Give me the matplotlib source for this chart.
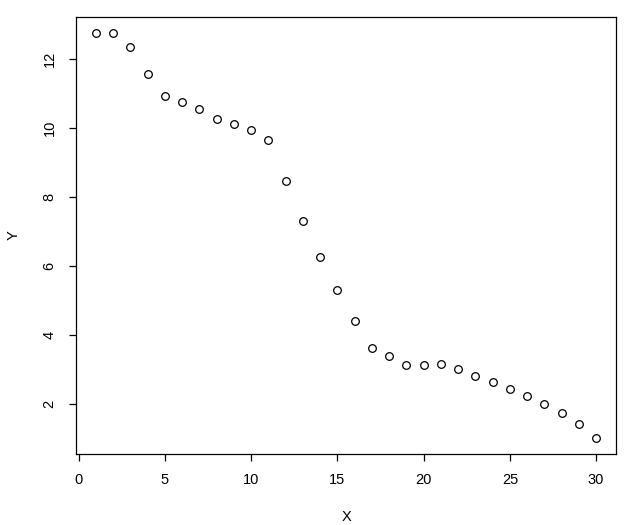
import numpy as np
import matplotlib
matplotlib.use("Agg")
import matplotlib.pyplot as plt

plt.rcParams['font.family'] = ['Liberation Sans', 'DejaVu Sans']

# data
x_vals = list(range(1, 31))
y_vals = [12.75, 12.75, 12.35, 11.57, 10.93, 10.75, 10.55, 10.26, 10.12, 9.94,
          9.65, 8.46, 7.30, 6.26, 5.30, 4.40, 3.62, 3.39, 3.13, 3.13,
          3.16, 3.01, 2.81, 2.64, 2.43, 2.23, 2.00, 1.74, 1.42, 1.01]
x_ticks = [0, 5, 10, 15, 20, 25, 30]
y_ticks = [2, 4, 6, 8, 10, 12]

fig = plt.figure(figsize=(6.3, 5.25), dpi=100)
ax = fig.add_axes([0.1206, 0.1352, 0.8574, 0.8324])

ax.plot(x_vals, y_vals, 'o', mfc='none', mec='black', ms=5.5, mew=0.9)

# R style 4% padding
xr = max(x_vals) - min(x_vals)
yr = max(y_vals) - min(y_vals)
ax.set_xlim(min(x_vals) - 0.04 * xr, max(x_vals) + 0.04 * xr)
ax.set_ylim(min(y_vals) - 0.04 * yr, max(y_vals) + 0.04 * yr)

ax.set_xticks(x_ticks)
ax.set_yticks(y_ticks)
ax.set_yticklabels([str(v) for v in y_ticks], rotation=90, va='center')
ax.tick_params(direction='out', length=5, width=0.9, labelsize=10.5, pad=9)
for s in ax.spines.values():
    s.set_linewidth(0.9)

ax.set_xlabel('X', fontsize=10.5, labelpad=16)
ax.set_ylabel('Y', fontsize=10.5, labelpad=16)

fig.savefig('out.png', dpi=100)
